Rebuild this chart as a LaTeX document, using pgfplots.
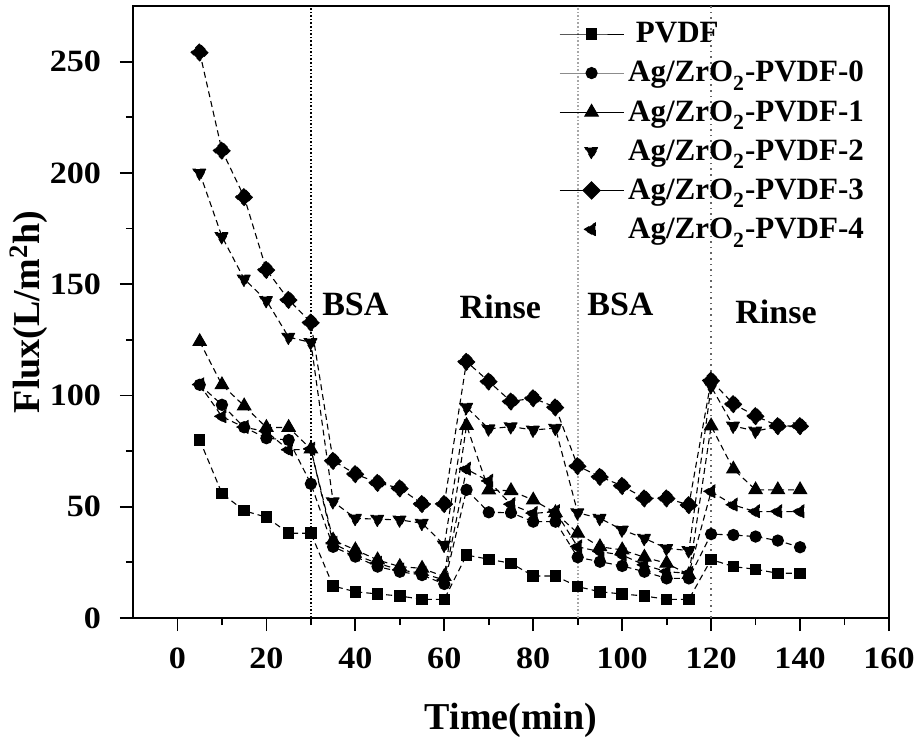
\documentclass[border=0pt]{standalone}
\usepackage{fontspec}
\setmainfont{Liberation Serif}
\newfontfamily\tickfont[FakeStretch=1.1]{Liberation Serif}
\usepackage{pgfplots}
\pgfplotsset{compat=1.18}
\usetikzlibrary{calc}

\begin{document}
\begin{tikzpicture}
\begin{axis}[
  scale only axis, width=378pt, height=306pt,
  xmin=-10, xmax=160, ymin=0, ymax=275,
  xtick={0,20,...,160}, ytick={0,50,...,250},
  minor x tick num=1, minor y tick num=1,
  tick align=outside, xtick pos=left, ytick pos=left,
  major tick length=6.5pt, minor tick length=3.5pt,
  axis line style={line width=1pt}, every tick/.style={line width=0.9pt, black},
  /pgf/number format/assume math mode=true,
  ticklabel style={font=\tickfont\fontsize{15.5}{18}\selectfont\bfseries},
  xticklabel style={yshift=-5pt}, yticklabel style={xshift=-6pt},
  xlabel={Time(min)}, ylabel={Flux(L/m$^{\mathbf{2}}$h)},
  label style={font=\fontsize{19}{23}\selectfont\bfseries},
  xlabel style={at={(axis description cs:0.5,-0.168)}, anchor=center},
  ylabel style={at={(axis description cs:-0.138,0.5)}, anchor=center},
  legend cell align=left,
  legend style={draw=none, fill=none, at={(rel axis cs:0.555,0.987)}, anchor=north west,
    font=\fontsize{15.5}{18}\selectfont\bfseries, row sep=3.8pt},
  legend image code/.code={\draw[mark repeat=2,mark phase=2,#1] plot coordinates {(0pt,0pt) (16pt,0pt) (32pt,0pt)};},
  every axis plot/.append style={black, line width=0.55pt, densely dashed, mark options={solid, fill=black}},
  clip=false,
]
\coordinate (bl) at (rel axis cs:0,0);
\coordinate (tr) at (rel axis cs:1,1);
% phase boundaries
\draw[black, line width=0.8pt, densely dotted] (axis cs:30,0) -- (axis cs:30,275);
\draw[black!35, line width=0.8pt, densely dotted] (axis cs:90,0) -- (axis cs:90,275);
\draw[black!60, line width=0.8pt, dotted] (axis cs:120,0) -- (axis cs:120,275);

% PVDF
\addplot[mark=square*, mark size=2.6pt, forget plot] coordinates {
(5,80) (10,56) (15,48.2) (20,45.3) (25,38.1) (30,38.1) (35,14.4) (40,11.8) (45,10.8) (50,9.9) (55,8.4) (60,8.4)
(65,28.3) (70,26.4) (75,24.6) (80,18.9) (85,18.9) (90,14.1) (95,11.8) (100,10.8) (105,9.9) (110,8.4) (115,8.4)
(120,26.3) (125,23.1) (130,21.9) (135,20.1) (140,20.1)};
% PVDF-0
\addplot[mark=*, mark size=2.8pt, forget plot] coordinates {
(5,104.8) (10,95.8) (15,85.7) (20,80.8) (25,80) (30,60.3) (35,32) (40,27.6) (45,23.1) (50,20.8) (55,19.3) (60,15.3)
(65,57.6) (70,47.5) (75,47.3) (80,43.3) (85,43.3) (90,27.3) (95,25.3) (100,23.4) (105,20.8) (110,17.8) (115,17.8)
(120,37.7) (125,37.3) (130,36.6) (135,34.8) (140,31.8)};
% PVDF-1
\addplot[mark=triangle*, mark size=3.8pt, forget plot] coordinates {
(5,124.2) (10,104.8) (15,95.3) (20,85.6) (25,85.6) (30,75.9) (35,35) (40,30.6) (45,26.1) (50,23.1) (55,22.3) (60,18.6)
(65,86.5) (70,57.5) (75,57.2) (80,53) (85,47.3) (90,38.1) (95,32) (100,30.6) (105,27.3) (110,24.6) (115,19.5)
(120,86.3) (125,66.9) (130,57.6) (135,57.6) (140,57.6)};
% PVDF-2
\addplot[mark=triangle*, mark options={rotate=180}, mark size=3.8pt, forget plot] coordinates {
(5,200) (10,171.4) (15,152.3) (20,142.7) (25,126.2) (30,123.8) (35,52.3) (40,44.8) (45,44.4) (50,44.1) (55,42.6) (60,32.8)
(65,94.7) (70,85) (75,86) (80,84.5) (85,85.3) (90,47.3) (95,44.8) (100,39.6) (105,35.8) (110,31.3) (115,30.3)
(120,104) (125,86.3) (130,84) (135,86) (140,86)};
% PVDF-3
\addplot[mark=square*, mark options={rotate=45}, mark size=3pt, forget plot] coordinates {
(5,254.2) (10,210.1) (15,189.2) (20,156.5) (25,143) (30,132.8) (35,70.7) (40,64.7) (45,60.8) (50,58.3) (55,51.3) (60,51.3)
(65,115.2) (70,106.3) (75,97.3) (80,98.8) (85,94.7) (90,68.3) (95,63.5) (100,59.4) (105,53.8) (110,53.8) (115,50.8)
(120,106.7) (125,96.2) (130,90.8) (135,86.3) (140,86.3)};
% PVDF-4
\addplot[mark=triangle*, mark options={rotate=90}, mark size=3.8pt, forget plot] coordinates {
(5,104.8) (10,90.5) (15,85.7) (20,83.8) (25,75.5) (30,75.9) (35,33.6) (40,28.3) (45,24.6) (50,21.6) (55,20.1) (60,17.1)
(65,66.9) (70,61.5) (75,51) (80,47) (85,47.8) (90,32) (95,29.8) (100,28.3) (105,23.8) (110,20.8) (115,20.1)
(120,56.8) (125,50.8) (130,47.8) (135,47.8) (140,47.8)};

\addlegendimage{black, solid, line width=0.5pt, mark=square*, mark size=2.6pt}
\addlegendentry{\ PVDF}
\addlegendimage{black!45, solid, line width=0.5pt, mark=*, mark size=2.8pt, mark options={black, fill=black}}
\addlegendentry{Ag/ZrO\raisebox{-0.3ex}{$_{\mathbf{2}}$}-PVDF-0}
\addlegendimage{black, solid, line width=0.6pt, mark=triangle*, mark size=3.8pt}
\addlegendentry{Ag/ZrO\raisebox{-0.3ex}{$_{\mathbf{2}}$}-PVDF-1}
\addlegendimage{black, only marks, mark=triangle*, mark options={rotate=180}, mark size=3.8pt}
\addlegendentry{Ag/ZrO\raisebox{-0.3ex}{$_{\mathbf{2}}$}-PVDF-2}
\addlegendimage{black, solid, line width=0.6pt, mark=square*, mark options={rotate=45}, mark size=3pt}
\addlegendentry{Ag/ZrO\raisebox{-0.3ex}{$_{\mathbf{2}}$}-PVDF-3}
\addlegendimage{black, only marks, mark=triangle*, mark options={rotate=90}, mark size=3.8pt}
\addlegendentry{Ag/ZrO\raisebox{-0.3ex}{$_{\mathbf{2}}$}-PVDF-4}

\node[font=\fontsize{17}{20}\selectfont\bfseries] at (axis cs:40,141) {BSA};
\node[font=\fontsize{17}{20}\selectfont\bfseries] at (axis cs:72.6,140) {Rinse};
\node[font=\fontsize{17}{20}\selectfont\bfseries] at (axis cs:99.6,141) {BSA};
\node[font=\fontsize{17}{20}\selectfont\bfseries] at (axis cs:134.6,137.6) {Rinse};
\end{axis}
\pgfresetboundingbox
\path ($(bl)+(-66.5pt,-64.5pt)$) rectangle ($(tr)+(15.5pt,3pt)$);
\end{tikzpicture}
\end{document}
